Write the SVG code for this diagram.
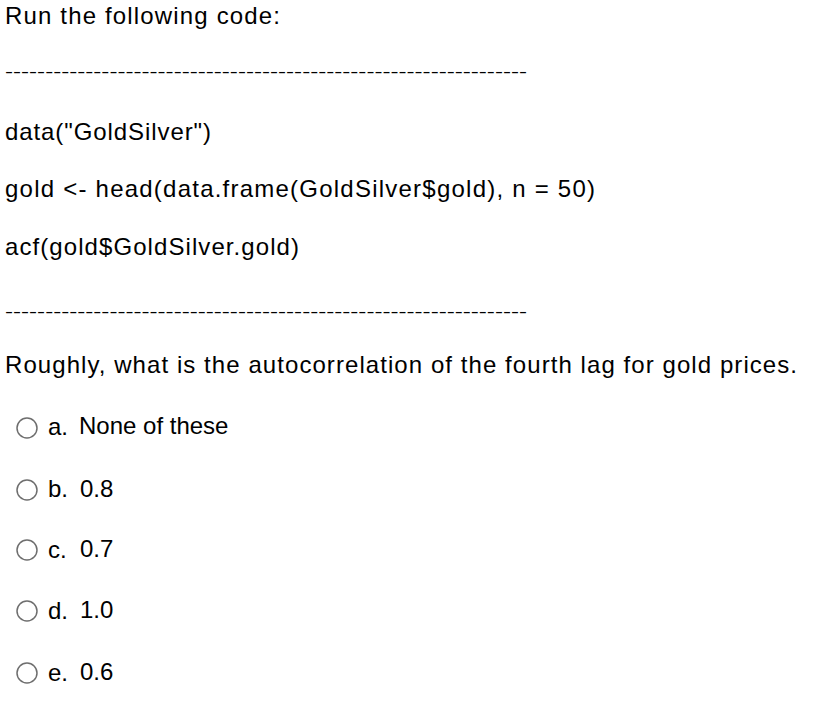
<svg xmlns="http://www.w3.org/2000/svg" width="814" height="724" viewBox="0 0 814 724">
<style>
text{font-family:"Liberation Sans",Arial,sans-serif;font-size:24px;fill:#000}
.d{font-size:16px}
.o{fill:#fff;stroke:#6e6e6e;stroke-width:1.5}
</style>
<rect width="814" height="724" fill="#fff"/>
<text x="5" y="24" textLength="275">Run the following code:</text>
<text class="d" x="5" y="77" textLength="522" lengthAdjust="spacingAndGlyphs">-----------------------------------------------------------------</text>
<text x="5" y="140" textLength="206">data("GoldSilver")</text>
<text x="5" y="197" textLength="590">gold &lt;- head(data.frame(GoldSilver$gold), n = 50)</text>
<text x="5" y="255" textLength="294">acf(gold$GoldSilver.gold)</text>
<text class="d" x="5" y="317" textLength="522" lengthAdjust="spacingAndGlyphs">-----------------------------------------------------------------</text>
<text x="5" y="373" textLength="792">Roughly, what is the autocorrelation of the fourth lag for gold prices.</text>
<g id="opt-a"><circle class="o" cx="27" cy="428" r="10"/><text x="48" y="435">a.</text><text x="79" y="434">None of these</text></g>
<g id="opt-b"><circle class="o" cx="27" cy="490" r="10"/><text x="48" y="497">b.</text><text x="80" y="497">0.8</text></g>
<g id="opt-c"><circle class="o" cx="27" cy="550" r="10"/><text x="48" y="558">c.</text><text x="80" y="557">0.7</text></g>
<g id="opt-d"><circle class="o" cx="27" cy="611" r="10"/><text x="48" y="619">d.</text><text x="80" y="618">1.0</text></g>
<g id="opt-e"><circle class="o" cx="27" cy="673" r="10"/><text x="48" y="681">e.</text><text x="80" y="680">0.6</text></g>
</svg>
